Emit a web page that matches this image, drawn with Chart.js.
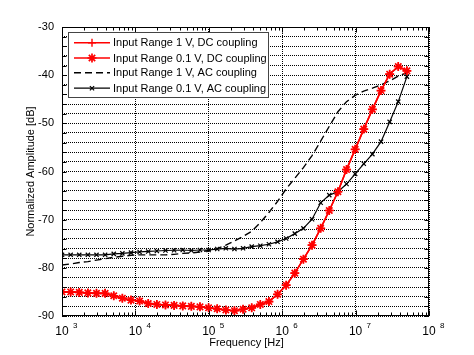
<!DOCTYPE html>
<html><head><meta charset="utf-8">
<script src="https://cdn.jsdelivr.net/npm/chart.js@4/dist/chart.umd.min.js"></script>
<style>html,body{margin:0;padding:0;background:#fff;}#wrap{width:474px;height:355px;}</style>
</head><body><div id="wrap"><canvas id="c" width="474" height="355"></canvas></div>
<script>
const freqHz = [1000, 1311, 1718, 2252, 2951, 3868, 5069, 6644, 8708, 11412,
  14956, 19602, 25690, 33668, 44125, 57830, 75790, 99330, 130180, 170610,
  223600, 293050, 384060, 503340, 659660, 864540, 1133000, 1485000, 1946000, 2551000,
  3343000, 4381000, 5741000, 7524000, 9862000, 12925000, 16939000, 22200000, 29095000, 38131000, 50000000];
const dc1V = [-85.0, -85.0, -85.1, -85.2, -85.3, -85.3, -85.8, -86.3, -86.7, -86.9,
  -87.4, -87.6, -87.7, -87.8, -87.9, -88.0, -88.1, -88.3, -88.5, -88.75,
  -88.9, -88.6, -88.3, -87.6, -87.0, -85.5, -83.6, -81.1, -78.2, -75.3,
  -71.8, -68.1, -64.2, -59.6, -55.4, -51.2, -47.1, -43.2, -39.8, -38.2, -39.1];
const dc01V = [-85.0, -85.0, -85.1, -85.2, -85.3, -85.3, -85.8, -86.3, -86.7, -86.9,
  -87.4, -87.6, -87.7, -87.8, -87.9, -88.0, -88.1, -88.3, -88.5, -88.75,
  -88.9, -88.6, -88.3, -87.6, -87.0, -85.5, -83.6, -81.1, -78.2, -75.3,
  -71.8, -68.1, -64.2, -59.6, -55.4, -51.2, -47.1, -43.2, -39.8, -38.2, -39.1];
const ac1V = [-79.4, -79.2, -78.9, -78.7, -78.4, -78.1, -77.8, -77.6, -77.4, -77.3,
  -77.3, -77.3, -77.3, -77.2, -77.0, -76.9, -76.7, -76.4, -76.0, -75.3,
  -74.4, -73.5, -72.4, -70.6, -68.5, -66.2, -63.6, -61.4, -59.2, -56.7,
  -53.7, -50.6, -47.6, -45.5, -44.2, -43.3, -42.7, -42.0, -41.2, -40.2, -39.5];
const ac01V = [-77.3, -77.3, -77.3, -77.3, -77.3, -77.3, -77.1, -77.0, -76.85, -76.7,
  -76.6, -76.5, -76.4, -76.35, -76.3, -76.4, -76.3, -76.3, -76.1, -75.95,
  -76.1, -75.95, -75.6, -75.4, -75.1, -74.6, -73.9, -72.9, -71.8, -69.9,
  -66.5, -64.9, -64.2, -62.6, -60.5, -58.4, -56.4, -53.8, -49.7, -45.5, -40.3];
const seriesNames = ['Input Range 1 V, DC coupling', 'Input Range 0.1 V, DC coupling',
  'Input Range 1 V, AC coupling', 'Input Range 0.1 V, AC coupling'];
const xTickExponents = [3, 4, 5, 6, 7, 8];
const yTickLabels = [-90, -80, -70, -60, -50, -40, -30];
const xTitle = 'Frequency [Hz]';
const yTitle = 'Normalized Amplitude [dB]';

const FONT = "'Liberation Sans', Arial, sans-serif";
Chart.defaults.font.family = FONT;
Chart.defaults.font.size = 11;
Chart.defaults.color = '#000';

const pts = arr => arr.map((v, i) => ({x: freqHz[i], y: v}));
const RED = '#ff0000';
const styles = [
  {color: RED, dash: [], marker: 'cross', r: 4, bw: 1.4, lw: 1.5},
  {color: RED, dash: [], marker: 'star', r: 4.5, bw: 1.7, lw: 1.6},
  {color: '#000', dash: [7, 4], marker: false, r: 0, bw: 0, lw: 1.4},
  {color: '#000', dash: [], marker: 'crossRot', r: 3, bw: 1.2, lw: 1.2}
];
const seriesData = [dc1V, dc01V, ac1V, ac01V];
const orders = [3, 0, 2, 1];

const datasets = seriesData.map((d, i) => ({
  label: seriesNames[i],
  data: pts(d),
  borderColor: styles[i].color,
  backgroundColor: styles[i].color,
  borderWidth: styles[i].lw,
  borderDash: styles[i].dash,
  pointStyle: styles[i].marker || 'circle',
  pointRadius: styles[i].r,
  pointBorderWidth: styles[i].bw,
  pointBorderColor: styles[i].color,
  pointBackgroundColor: styles[i].color,
  tension: 0,
  order: orders[i]
}));

const overlay = {
  id: 'overlay',
  afterDraw(chart) {
    const ctx = chart.ctx, a = chart.chartArea, xs = chart.scales.x, ys = chart.scales.y;
    ctx.save();
    ctx.setLineDash([]);
    ctx.strokeStyle = '#000';
    ctx.lineWidth = 1;
    const L = Math.round(a.left) + 0.5, R = Math.round(a.right) - 0.5, T = Math.round(a.top) + 0.5, B = Math.round(a.bottom) - 0.5;
    ctx.strokeRect(L, T, R - L, B - T);
    ctx.beginPath();
    for (let e = 3; e < 8; e++) {
      for (let m = 2; m <= 9; m++) {
        const px = Math.round(xs.getPixelForValue(m * Math.pow(10, e))) + 0.5;
        ctx.moveTo(px, B); ctx.lineTo(px, B - 3);
        ctx.moveTo(px, T); ctx.lineTo(px, T + 3);
      }
    }
    xTickExponents.forEach(e => {
      const px = Math.round(xs.getPixelForValue(Math.pow(10, e))) + 0.5;
      ctx.moveTo(px, B); ctx.lineTo(px, B - 5);
      ctx.moveTo(px, T); ctx.lineTo(px, T + 5);
    });
    ys.ticks.forEach(t => {
      const py = Math.round(ys.getPixelForValue(t.value)) + 0.5;
      ctx.moveTo(L, py); ctx.lineTo(L + 4, py);
      ctx.moveTo(R, py); ctx.lineTo(R - 4, py);
    });
    ctx.stroke();

    // x tick labels 10^n
    ctx.fillStyle = '#000';
    ctx.textBaseline = 'alphabetic';
    xTickExponents.forEach(e => {
      const px = xs.getPixelForValue(Math.pow(10, e));
      ctx.font = '12px ' + FONT;
      ctx.textAlign = 'center';
      ctx.fillText('10', px, 335);
      ctx.font = '8px ' + FONT;
      ctx.textAlign = 'left';
      ctx.fillText(String(e), px + 11, 328);
    });
    // axis titles
    ctx.font = '11px ' + FONT;
    ctx.textAlign = 'center';
    ctx.fillText(xTitle, (a.left + a.right) / 2 + 1, 346);
    ctx.save();
    ctx.translate(31, (a.top + a.bottom) / 2);
    ctx.rotate(-Math.PI / 2);
    ctx.textBaseline = 'middle';
    ctx.fillText(yTitle, 0, 0);
    ctx.restore();

    // legend
    const lx = 68.5, ly = 32.5, lw = 200, lh = 65;
    ctx.fillStyle = '#fff';
    ctx.fillRect(lx, ly, lw, lh);
    ctx.strokeStyle = '#444';
    ctx.lineWidth = 1;
    ctx.strokeRect(lx, ly, lw, lh);
    const rows = [42.7, 58.0, 72.8, 88.2];
    seriesNames.forEach((name, i) => {
      const s = styles[i], y = rows[i];
      ctx.strokeStyle = s.color;
      ctx.lineWidth = s.lw;
      ctx.setLineDash(s.dash);
      ctx.beginPath();
      ctx.moveTo(74, y); ctx.lineTo(110, y);
      ctx.stroke();
      ctx.setLineDash([]);
      if (s.marker) {
        ctx.strokeStyle = s.color;
        ctx.fillStyle = s.color;
        ctx.lineWidth = s.bw;
        Chart.helpers.drawPoint(ctx, {pointStyle: s.marker, radius: s.r, borderWidth: s.bw, rotation: 0}, 92, y);
      }
      ctx.fillStyle = '#000';
      ctx.font = '11px ' + FONT;
      ctx.textAlign = 'left';
      ctx.textBaseline = 'middle';
      ctx.fillText(name, 113, y + 0.5);
    });
    ctx.restore();
  }
};

new Chart(document.getElementById('c'), {
  type: 'line',
  data: {datasets},
  options: {
    responsive: false,
    animation: false,
    events: [],
    layout: {padding: {top: 27, right: 45, left: 0, bottom: 0}},
    plugins: {legend: {display: false}, tooltip: {enabled: false}},
    scales: {
      x: {
        type: 'logarithmic',
        min: 1000, max: 1e8,
        afterBuildTicks: s => { s.ticks = xTickExponents.map(e => ({value: Math.pow(10, e)})); },
        afterFit: s => { s.height = 39; },
        ticks: {display: false},
        grid: {color: '#000', lineWidth: 1, drawTicks: false},
        border: {display: false, dash: [1, 1]}
      },
      y: {
        type: 'linear',
        min: -90, max: -30,
        afterFit: s => { s.width = 62; },
        ticks: {
          stepSize: 2, autoSkip: false, padding: 8,
          font: {size: 11, family: FONT},
          callback: v => (yTickLabels.includes(v) ? String(v) : '')
        },
        grid: {color: '#000', lineWidth: 1, drawTicks: false},
        border: {display: false, dash: [1, 1]}
      }
    }
  },
  plugins: [overlay]
});
</script>
</body></html>
